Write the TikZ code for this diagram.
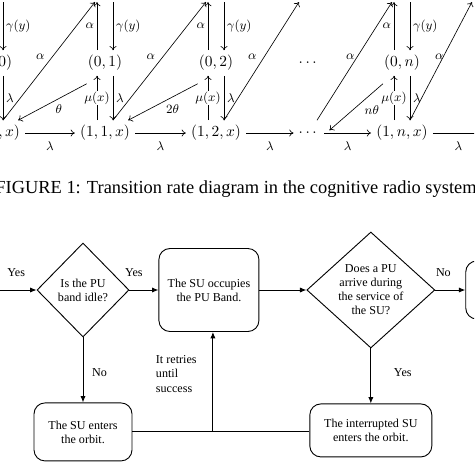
\documentclass[tikz,border=0pt]{standalone}
\usepackage[no-math]{fontspec}
\usepackage{amsmath}
\usepackage{tikz}
\usetikzlibrary{shapes}
\usetikzlibrary{arrows.meta}
\usetikzlibrary{positioning}
\newfontfamily\timesfont{Liberation Serif}
\newcommand{\flowfont}{\timesfont\fontsize{8.6}{10}\selectfont}
\newcommand{\capfont}{\timesfont\fontsize{13.1}{15}\selectfont}
\tikzset{>={To[length=3pt,width=5pt]}, x=0.25mm, y=-0.25mm, font=\fontsize{11}{13}\selectfont}
\tikzstyle{state} = [text height=8pt, text depth=2.75pt, inner sep=3.5pt]
\tikzstyle{rate} = [font=\fontsize{9.5}{11}\selectfont, inner sep=2pt]
\tikzstyle{trans} = [->, line width=0.45pt]
\tikzstyle{decision} = [draw, diamond, aspect=1, inner sep=0pt, line width=0.65pt, align=center, font=\flowfont]
\tikzstyle{block} = [draw, rectangle, rounded corners=2.75mm, line width=0.65pt, align=center, font=\flowfont]
\tikzstyle{flow} = [-{Latex[length=1.6mm,width=1.3mm]}, line width=0.65pt]
\tikzstyle{link} = [line width=0.65pt]
\tikzstyle{note} = [font=\flowfont]
\tikzstyle{figcap} = [font=\capfont, anchor=base, inner sep=0pt]

\begin{document}
\begin{tikzpicture}
	\useasboundingbox (0,0) rectangle (474,474);
	\clip (0,0) rectangle (474,474);

	% transition rate diagram
	\node [state] (s00) at (-5,63) {$(0,0)$};
	\node [state] (s01) at (105,63) {$(0,1)$};
	\node [state] (s02) at (216,63) {$(0,2)$};
	\node [state] (s0d) at (309,63) {$\cdots$};
	\node [state] (s0n) at (402,63) {$(0,n)$};

	\node [state] (b0) at (-5,133) {$(1,0,x)$};
	\node [state] (b1) at (105,133) {$(1,1,x)$};
	\node [state] (b2) at (216,133) {$(1,2,x)$};
	\node [state] (bd) at (309,133) {$\cdots$};
	\node [state] (bn) at (402,133) {$(1,n,x)$};

	\coordinate (u0) at (-5,2);
	\coordinate (u1) at (105,2);
	\coordinate (u2) at (216,2);
	\coordinate (ud) at (309,2);
	\coordinate (un) at (402,2);
	\coordinate (un1) at (482,2);
	\coordinate (out) at (484,133);

	\draw [trans] ([xshift=2mm]u0) -- node [rate, right] {$\gamma(y)$} ([xshift=2mm]s00.north);
	\draw [trans] ([xshift=2mm]s00.south) -- node [rate, right] {$\lambda$} ([xshift=2mm]b0.north);
	\draw [trans] ([xshift=2mm]b0.north) -- node [rate, left=1.25mm, pos=0.54] {$\alpha$} ([xshift=-2.5mm]u1);
	\draw [trans] (b0) -- node [rate, below=1.5mm] {$\lambda$} (b1);

	\draw [trans] ([xshift=-2mm]s01.north) -- node [rate, left] {$\alpha$} ([xshift=-2mm]u1);
	\draw [trans] ([xshift=2mm]u1) -- node [rate, right] {$\gamma(y)$} ([xshift=2mm]s01.north);
	\draw [trans] ([xshift=-2mm]b1.north) -- node [rate, fill=white, inner sep=0.5pt] {$\mu(x)$} ([xshift=-2mm]s01.south);
	\draw [trans] ([xshift=2mm]s01.south) -- node [rate, right] {$\lambda$} ([xshift=2mm]b1.north);
	\draw [trans] ([xshift=1mm,yshift=-2mm]s01.south west) -- node [rate, below right] {$\theta$} ([xshift=-1.75mm]b0.north east);
	\draw [trans] ([xshift=2mm]b1.north) -- node [rate, left=1.25mm, pos=0.54] {$\alpha$} ([xshift=-2.5mm]u2);
	\draw [trans] (b1) -- node [rate, below=1.5mm] {$\lambda$} (b2);

	\draw [trans] ([xshift=-2mm]s02.north) -- node [rate, left] {$\alpha$} ([xshift=-2mm]u2);
	\draw [trans] ([xshift=2mm]u2) -- node [rate, right] {$\gamma(y)$} ([xshift=2mm]s02.north);
	\draw [trans] ([xshift=-2mm]b2.north) -- node [rate, fill=white, inner sep=0.5pt] {$\mu(x)$} ([xshift=-2mm]s02.south);
	\draw [trans] ([xshift=2mm]s02.south) -- node [rate, right] {$\lambda$} ([xshift=2mm]b2.north);
	\draw [trans] ([xshift=1mm,yshift=-2mm]s02.south west) -- node [rate, below right] {$2\theta$} ([xshift=-1.75mm]b1.north east);
	\draw [trans] ([xshift=2mm]b2.north) -- node [rate, left=1.25mm, pos=0.54] {$\alpha$} ([xshift=-2.5mm]ud);
	\draw [trans] (b2) -- node [rate, below=1.5mm] {$\lambda$} (bd);

	\draw [trans] ([xshift=2mm]bd.north) -- node [rate, left, pos=0.54] {$\alpha$} ([xshift=-2.5mm]un);
	\draw [trans] (bd) -- node [rate, below=1.5mm] {$\lambda$} (bn);

	\draw [trans] ([xshift=-2mm]s0n.north) -- node [rate, left] {$\alpha$} ([xshift=-2mm]un);
	\draw [trans] ([xshift=2mm]un) -- node [rate, right] {$\gamma(y)$} ([xshift=2mm]s0n.north);
	\draw [trans] ([xshift=-2mm]bn.north) -- node [rate, fill=white, inner sep=0.5pt] {$\mu(x)$} ([xshift=-2mm]s0n.south);
	\draw [trans] ([xshift=2mm]s0n.south) -- node [rate, right] {$\lambda$} ([xshift=2mm]bn.north);
	\draw [trans] ([xshift=1mm,yshift=-2mm]s0n.south west) -- node [rate, below right, pos=0.4] {$n\theta$} ([shift={(1.25mm,-2.5mm)}]bd.north east);
	\draw [trans] ([xshift=2mm]bn.north) -- node [rate, left=-0.75mm, pos=0.54] {$\alpha$} ([xshift=-2.5mm]un1);
	\draw [trans] (bn) -- node [rate, below=1.5mm] {$\lambda$} (out);

	\node [figcap] (cap) at (236,193) {FIGURE 1: Transition rate diagram in the cognitive radio system};

	% flowchart
	\node [decision, minimum width=23mm, minimum height=23.5mm] (idle) at (83,290) {Is the PU\\band idle?};
	\node [block, right=7.25mm of idle, minimum width=25mm, minimum height=20.75mm] (occupy) {The SU occupies\\the PU Band.};
	\node [decision, right=11.75mm of occupy, minimum width=32mm, minimum height=29mm] (arrive) {Does a PU\\arrive during\\the service of\\the SU?};
	\node [block, right=7.5mm of arrive, minimum width=25mm, minimum height=14.5mm] (leave) {};
	\node [block, below=16.25mm of idle, minimum width=24.5mm, minimum height=14.5mm] (orbit) {The SU enters\\the orbit.};
	\node [block, below=13.75mm of arrive, minimum width=30.5mm, minimum height=13.25mm] (interrupt) {The interrupted SU\\enters the orbit.};
	\node [note, align=left, anchor=west] (retry) at (151,374) {It retries\\until\\success};

	\coordinate (entry) at (-4,290);
	\coordinate [xshift=1mm] (joint) at (occupy.south |- orbit.east);

	\draw [flow] (entry) -- node [note, above=2mm] {Yes} (idle);
	\draw [flow] (idle) -- node [note, above=2mm, pos=0.15] {Yes} (occupy);
	\draw [flow] (occupy) -- (arrive);
	\draw [flow] (arrive) -- node [note, above=2mm, pos=0.27] {No} (leave);
	\draw [flow] (idle) -- node [note, right=1mm, pos=0.54] {No} (orbit);
	\draw [flow] (arrive) -- node [note, right=4.5mm, pos=0.44] {Yes} (interrupt);
	\draw [link] (orbit.east) -- (orbit.east -| interrupt.west);
	\draw [flow] (joint) -- (joint |- occupy.south);
\end{tikzpicture}
\end{document}
